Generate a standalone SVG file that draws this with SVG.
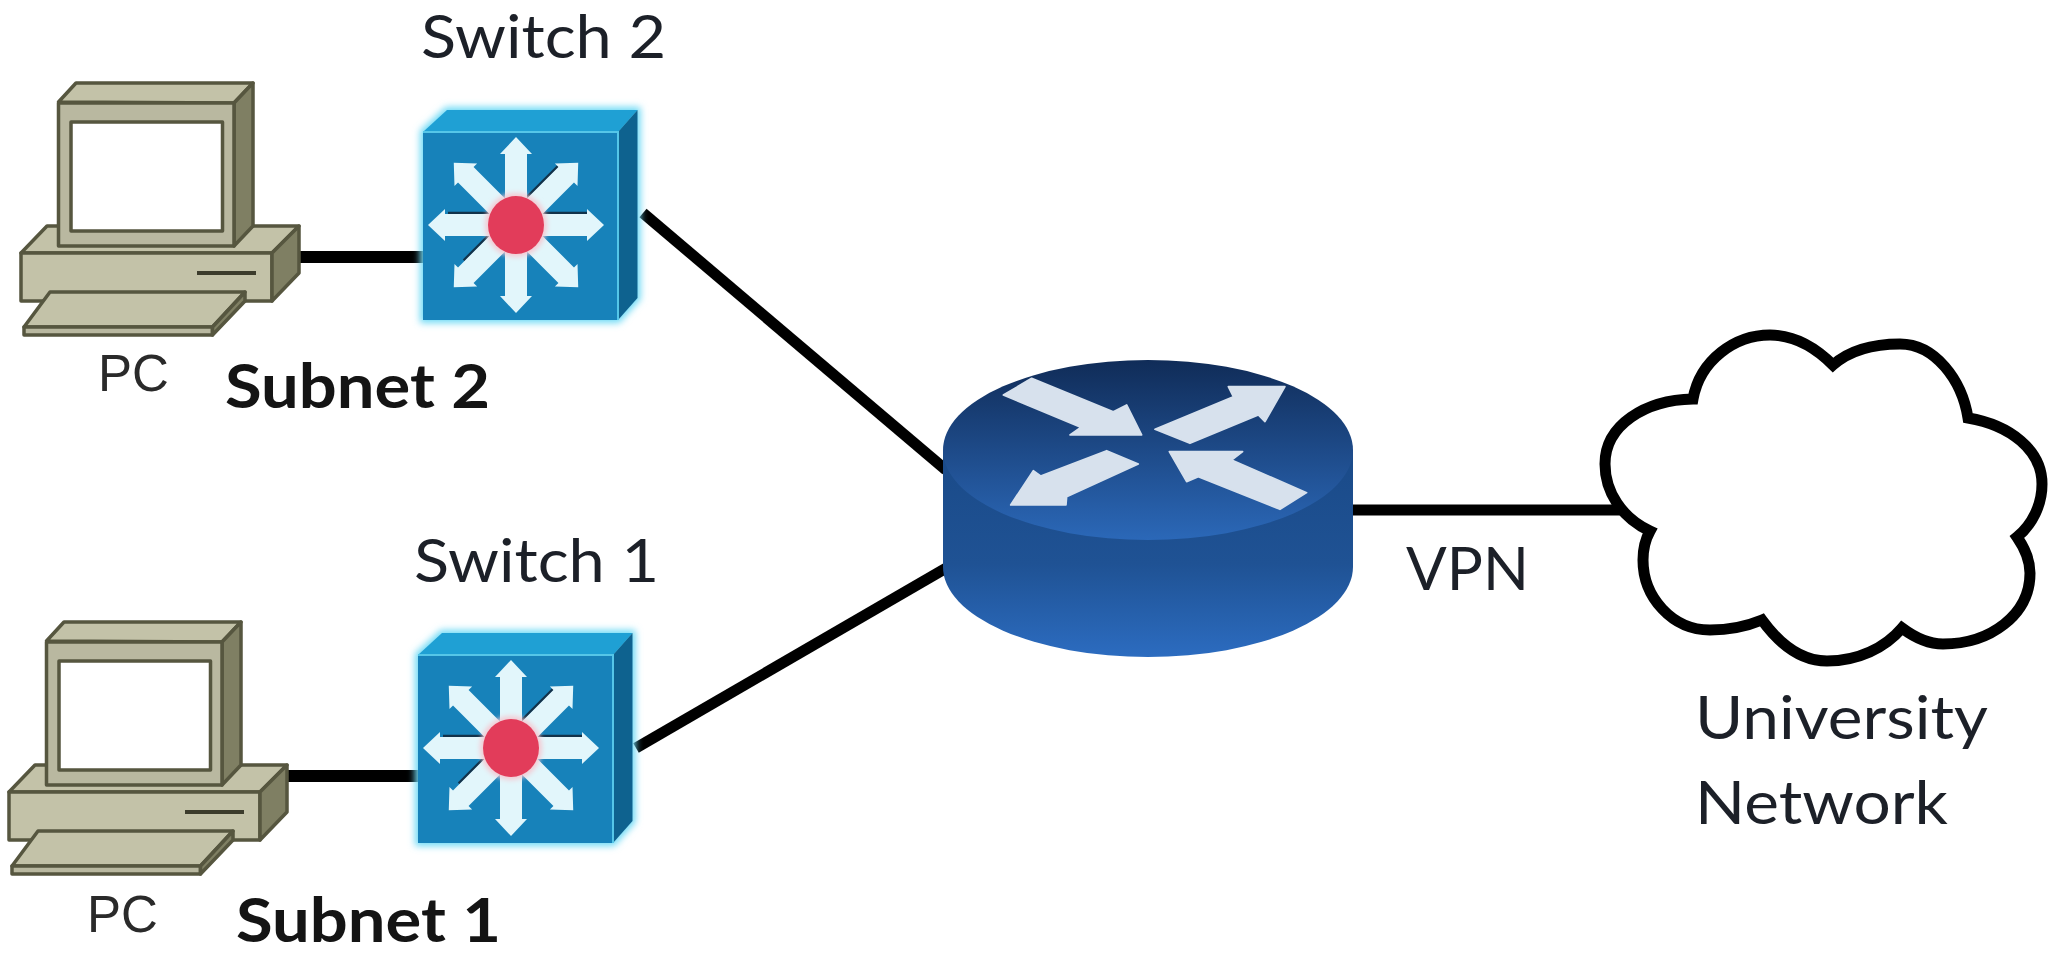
<svg xmlns="http://www.w3.org/2000/svg" width="2057" height="953" viewBox="0 0 2057 953">
<style>
.t{font-family:Lato,"Liberation Sans",sans-serif;font-size:60px;fill:#1c2028}
.b{font-family:Lato,"Liberation Sans",sans-serif;font-size:62px;font-weight:700;fill:#141414}
.p{font-family:"Liberation Sans",Arial,sans-serif;font-size:51px;fill:#2a2a2a}
.pc{stroke:#56563f;stroke-width:3.5;stroke-linejoin:round}
.l{fill:#c3c2a8}.m{fill:#b9b8a0}.d{fill:#7f7f63}
.c{stroke:#000;fill:none}
.ra{fill:#d7e1ed;stroke:#d7e1ed;stroke-width:5;stroke-linejoin:round}
.sa{fill:#e2f6fb}
.sl{stroke:#12324a;stroke-width:2.5}
</style>
<defs>
<filter id="glow" x="-15%" y="-15%" width="130%" height="130%"><feGaussianBlur stdDeviation="3.500"/></filter>
<filter id="soft" x="-30%" y="-30%" width="160%" height="160%"><feGaussianBlur stdDeviation="2.500"/></filter>
<linearGradient id="rt" x1="0" y1="0" x2="0" y2="1"><stop offset="0" stop-color="#102c58"/><stop offset="1" stop-color="#2b68b8"/></linearGradient>
<linearGradient id="rs" x1="0" y1="0" x2="0" y2="1"><stop offset="0" stop-color="#1a4a88"/><stop offset="0.55" stop-color="#1f5294"/><stop offset="1" stop-color="#2c6cc0"/></linearGradient>
<polygon id="arr" points="0,-11 71,-11 71,-16 88,0 71,16 71,11 0,11"/>
<g id="pcIcon">
<polygon class="pc l" points="21,253 47,226 299,226 272,253"/>
<rect class="pc l" x="21" y="253" width="251" height="48"/>
<polygon class="pc d" points="272,253 299,226 299,273 272,301"/>
<polygon class="pc l" points="58.500,102 76,83 253,83 234,103"/>
<polygon class="pc d" points="234,103 253,83 253,226 234,246"/>
<rect class="pc m" x="58.500" y="103" width="175.500" height="143"/>
<rect class="pc" fill="#fff" x="71" y="122" width="151.500" height="109"/>
<line x1="197" y1="273" x2="256" y2="273" stroke="#3c3c2c" stroke-width="4"/>
<polygon class="pc l" points="24,327 50,292 245,292 212.500,327"/>
<rect class="pc m" x="24" y="327" width="188.500" height="8"/>
<polygon class="pc d" points="212.500,327 245,292 245,301 212.500,335"/>
</g>
<g id="switchIcon">
<path d="M423 132 L447 110 H637.500 V298 L618 320 H423 Z" fill="#6fdaf5" stroke="#6fdaf5" stroke-width="6" filter="url(#glow)"/>
<polygon points="423,132 447,110 637.500,110 618,132" fill="#1fa0d4"/>
<polygon points="618,132 637.500,110 637.500,298 618,320" fill="#0e628f"/>
<rect x="423" y="132" width="195" height="188" fill="#1782ba"/>
<polyline points="423,132 618,132 618,320" fill="none" stroke="#55c6e8" stroke-width="2"/>
<g transform="translate(516 225)">
<line class="sl" x1="-68" y1="-12" x2="71" y2="-12"/>
<line class="sl" x1="-62" y1="-12" x2="72" y2="-12" transform="rotate(-45)"/>
<use href="#arr" class="sa"/>
<use href="#arr" class="sa" transform="rotate(45)"/>
<use href="#arr" class="sa" transform="rotate(90)"/>
<use href="#arr" class="sa" transform="rotate(135)"/>
<use href="#arr" class="sa" transform="rotate(180)"/>
<use href="#arr" class="sa" transform="rotate(225)"/>
<use href="#arr" class="sa" transform="rotate(270)"/>
<use href="#arr" class="sa" transform="rotate(315)"/>
<ellipse rx="31" ry="32" fill="#f4c9d2" filter="url(#soft)"/>
<ellipse rx="28" ry="29" fill="#e23c5a"/>
</g>
</g>
</defs>
<rect width="2057" height="953" fill="#fff"/>
<g id="connectors">
<line class="c" x1="299" y1="257" x2="430" y2="257" stroke-width="12"/>
<line class="c" x1="286" y1="776" x2="425" y2="776" stroke-width="12"/>
<line class="c" x1="643" y1="213" x2="946" y2="470" stroke-width="11"/>
<line class="c" x1="636" y1="748" x2="948" y2="567" stroke-width="11"/>
<line class="c" x1="1348" y1="510" x2="1625" y2="510" stroke-width="11"/>
</g>
<g id="pc2"><use href="#pcIcon"/><text class="p" x="98" y="391">PC</text></g>
<g id="switch2"><use href="#switchIcon"/><text class="t" x="421" y="58" textLength="245" lengthAdjust="spacingAndGlyphs">Switch 2</text><text class="b" x="225" y="408" textLength="265" lengthAdjust="spacingAndGlyphs">Subnet 2</text></g>
<g id="pc1"><use href="#pcIcon" transform="translate(-12 539)"/><text class="p" x="87" y="932">PC</text></g>
<g id="switch1"><use href="#switchIcon" transform="translate(-5 523)"/><text class="t" x="414" y="582" textLength="245" lengthAdjust="spacingAndGlyphs">Switch 1</text><text class="b" x="236" y="942" textLength="265" lengthAdjust="spacingAndGlyphs">Subnet 1</text></g>
<g id="router">
<path d="M943 450 V567 A205 90 0 0 0 1353 567 V450 Z" fill="url(#rs)"/>
<ellipse cx="1148" cy="450" rx="205" ry="90" fill="url(#rt)"/>
<g transform="translate(920 340) scale(0.3333)">
<polygon class="ra" points="250,165 335,115 580,215 620,195 665,285 450,285 482,262"/>
<polygon class="ra" points="705,268 940,170 925,140 1095,140 1035,245 1015,225 810,310"/>
<polygon class="ra" points="655,372 440,470 438,495 272,495 340,392 362,408 560,332"/>
<polygon class="ra" points="1160,458 1080,508 835,410 800,425 748,335 968,335 935,360"/>
</g>
</g>
<g id="cloud">
<path d="M1693 399 C1700 360 1735 335 1770 335 C1797 335 1818 350 1833 365 C1850 350 1875 344 1900 344 C1935 344 1962 380 1968 418 C2010 425 2042 450 2042 484 C2042 505 2032 525 2017 537 C2026 550 2030 562 2030 573 C2030 615 1990 644 1943 644 C1928 644 1914 637 1902 628 C1885 648 1858 661 1827 661 C1800 661 1778 642 1762 620 C1745 627 1728 630 1710 630 C1672 630 1643 597 1643 560 C1643 550 1645 540 1650 531 C1622 518 1605 492 1605 464 C1605 425 1645 400 1693 399 Z" fill="#fff" stroke="#000" stroke-width="11"/>
<text class="t" x="1695" y="739" textLength="293" lengthAdjust="spacingAndGlyphs">University</text>
<text class="t" x="1695" y="824" textLength="253" lengthAdjust="spacingAndGlyphs">Network</text>
</g>
<text id="vpn" class="t" x="1406" y="590" textLength="123" lengthAdjust="spacingAndGlyphs">VPN</text>
</svg>
